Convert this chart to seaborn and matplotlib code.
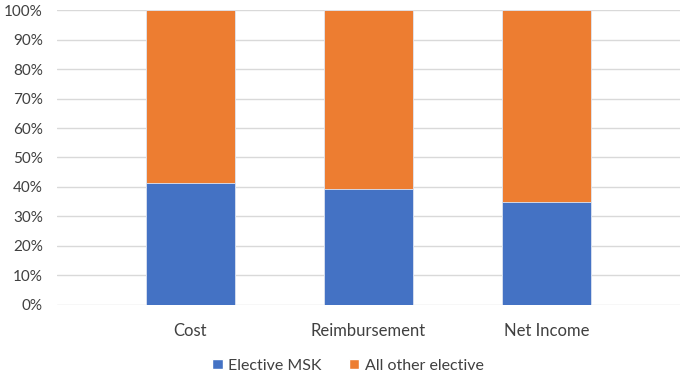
import numpy as np
import pandas as pd
import matplotlib
matplotlib.use("Agg")
import matplotlib.pyplot as plt
import seaborn as sns
from matplotlib.ticker import PercentFormatter
from matplotlib.patches import Patch

categories = ["Cost", "Reimbursement", "Net Income"]
elective_msk = [0.412, 0.392, 0.348]
all_other = [1 - v for v in elective_msk]

BLUE = "#4472C4"
ORANGE = "#ED7D31"

sns.set_theme(style="white")
plt.rcParams["font.family"] = ["Lato", "DejaVu Sans"]

df = pd.DataFrame({"category": categories, "msk": elective_msk, "other": all_other})
df["total"] = df["msk"] + df["other"]

fig = plt.figure(figsize=(6.85, 3.75), dpi=100)
ax = fig.add_axes([0.083, 0.187, 0.910, 0.786])

sns.barplot(data=df, x="category", y="total", color=ORANGE, width=0.5,
            saturation=1, edgecolor="#dfe6f3", linewidth=0.6, ax=ax, zorder=2)
sns.barplot(data=df, x="category", y="msk", color=BLUE, width=0.5,
            saturation=1, edgecolor="#dfe6f3", linewidth=0.6, ax=ax, zorder=3)

ax.set_xlim(-0.75, 2.75)
ax.set_ylim(0, 1)
ax.set_yticks(np.linspace(0, 1, 11))
ax.yaxis.set_major_formatter(PercentFormatter(1.0, decimals=0))
ax.grid(axis="y", color="#d9d9d9", linewidth=1, zorder=0)
ax.set_axisbelow(True)
for s in ax.spines.values():
    s.set_visible(False)
ax.set_xlabel("")
ax.set_ylabel("")
ax.tick_params(axis="both", length=0, colors="#404040")
ax.tick_params(axis="x", pad=13, labelsize=12)
ax.tick_params(axis="y", pad=10, labelsize=11)

handles = [Patch(facecolor=BLUE, label="Elective MSK"),
           Patch(facecolor=ORANGE, label="All other elective")]
fig.legend(handles=handles, loc="center", bbox_to_anchor=(0.508, 0.025), ncol=2,
           frameon=False, fontsize=11.5, handlelength=0.65, handleheight=0.65,
           handletextpad=0.35, columnspacing=1.7, labelcolor="#404040")

fig.savefig("out.png", dpi=100)
